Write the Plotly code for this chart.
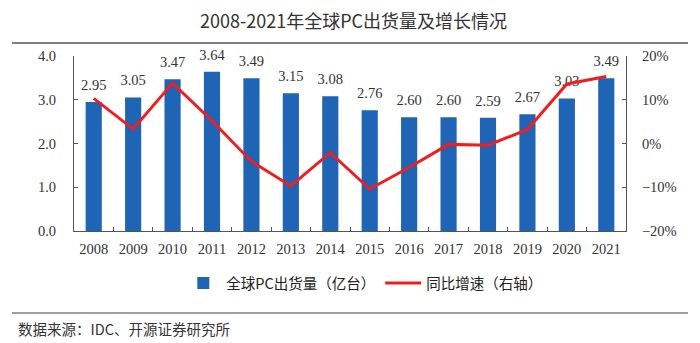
import plotly.graph_objects as go

years = ["2008", "2009", "2010", "2011", "2012", "2013", "2014",
         "2015", "2016", "2017", "2018", "2019", "2020", "2021"]
shipments = [2.95, 3.05, 3.47, 3.64, 3.49, 3.15, 3.08,
             2.76, 2.60, 2.60, 2.59, 2.67, 3.03, 3.49]
growth = [10.3, 3.3, 13.8, 5.2, -4.1, -9.7, -2.1,
          -10.4, -5.5, -0.2, -0.4, 3.2, 13.6, 15.3]

bar_color = "#1F64B5"
line_color = "#F01E1E"
serif = "Liberation Serif"
cjk = "Noto Sans CJK SC"
num_size = 14.5

fig = go.Figure()
fig.add_trace(go.Bar(
    x=years, y=shipments, name="全球PC出货量（亿台）",
    marker=dict(color=bar_color, line=dict(width=0)),
    yaxis="y", width=0.41,
))
fig.add_trace(go.Scatter(
    x=years, y=shipments, mode="markers+text",
    text=[f"{v:.2f}" for v in shipments], textposition="top center",
    textfont=dict(family=serif, size=num_size, color="#333333"),
    marker=dict(size=12, opacity=0), showlegend=False, hoverinfo="skip",
    cliponaxis=False, yaxis="y",
))
fig.add_trace(go.Scatter(
    x=years, y=growth, name="同比增速（右轴）", mode="lines",
    line=dict(color=line_color, width=3), yaxis="y2",
))

fig.update_layout(
    width=700, height=343,
    margin=dict(l=74, r=74, t=56, b=112),
    paper_bgcolor="white", plot_bgcolor="white",
    font=dict(family=serif, size=num_size, color="#333333"),
    xaxis=dict(
        type="category", showline=True, linecolor="#555555", linewidth=1,
        ticks="inside", tickson="boundaries", ticklen=4, tickcolor="#555555",
        tickfont=dict(family=serif, size=num_size, color="#333333"),
        ticklabelstandoff=5,
        showgrid=False, range=[-0.5, 13.5],
    ),
    yaxis=dict(
        range=[0, 4], dtick=1, tickformat=".1f", showgrid=False, zeroline=False,
        showline=True, linecolor="#555555", linewidth=1,
        ticks="inside", ticklen=4, tickcolor="#555555",
        tickfont=dict(family=serif, size=num_size, color="#333333"),
        ticklabelstandoff=14,
    ),
    yaxis2=dict(
        range=[-20, 20], dtick=10, ticksuffix="%", overlaying="y", side="right",
        showgrid=False, zeroline=False,
        showline=True, linecolor="#555555", linewidth=1,
        ticks="inside", ticklen=4, tickcolor="#555555",
        tickfont=dict(family=serif, size=num_size, color="#333333"),
        ticklabelstandoff=12,
    ),
    legend=dict(
        orientation="h", x=0.525, xanchor="center", y=-0.297, yanchor="middle",
        font=dict(family=cjk, size=14.5, color="#222222"),
        itemwidth=36, tracegroupgap=0,
    ),
    showlegend=True,
    bargap=0.59,
    title=dict(
        text="2008-2021年全球PC出货量及增长情况",
        x=0.505, xanchor="center", y=0.937, yanchor="middle",
        font=dict(family=cjk, size=18, color="#333333"),
    ),
)

fig.add_shape(type="line", xref="paper", yref="paper",
              x0=-62/552, x1=1 + 62/552, y0=1 + 13/175, y1=1 + 13/175,
              line=dict(color="#7F7F7F", width=2))
fig.add_shape(type="line", xref="paper", yref="paper",
              x0=-62/552, x1=1 + 62/552, y0=-82/175, y1=-82/175,
              line=dict(color="#7F7F7F", width=1.5))
fig.add_annotation(
    text="数据来源：IDC、开源证券研究所", xref="paper", yref="paper",
    x=-58/552, xanchor="left", y=-97/175, yanchor="middle", showarrow=False,
    font=dict(family=cjk, size=14.5, color="#333333"),
)

fig.write_html("out.html")
